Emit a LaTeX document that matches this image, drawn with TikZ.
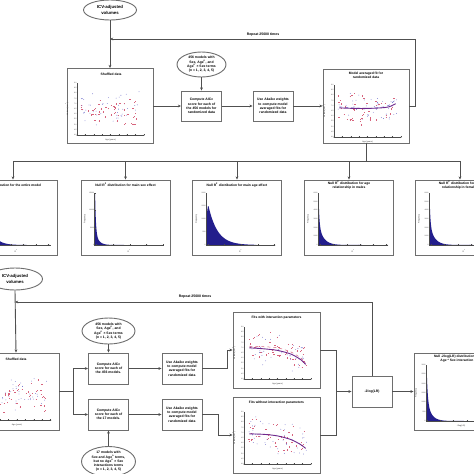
\documentclass[tikz,border=0pt]{standalone}
\usepackage{fontspec}
\setmainfont{Liberation Sans}
\usetikzlibrary{arrows.meta,shapes.geometric}

\definecolor{linegray}{RGB}{80,80,80}
\definecolor{boxgray}{RGB}{110,110,110}
\definecolor{histblue}{RGB}{35,30,140}
\definecolor{ptred}{RGB}{215,100,125}
\definecolor{ptblue}{RGB}{100,100,200}
\definecolor{fitpurple}{RGB}{110,40,140}

\tikzset{
 conn/.style={draw=linegray, line width=0.9pt},
 arr/.style={conn, -{Stealth[length=3.2pt,width=2.8pt]}},
 procbox/.style={draw=boxgray, line width=0.9pt, fill=white, inner sep=0pt, align=center, font=\fontsize{3.4}{4.2}\selectfont\bfseries},
 plotbox/.style={draw=boxgray, line width=0.9pt, fill=white, inner sep=0pt},
 ell/.style={ellipse, draw=boxgray, line width=0.9pt, fill=white, inner sep=0pt, align=center, font=\fontsize{3.4}{4.3}\selectfont\bfseries},
 ptitle/.style={align=center, inner sep=0pt, font=\fontsize{3.3}{4.2}\selectfont\bfseries},
 reptext/.style={inner sep=0pt, font=\fontsize{3.5}{4}\selectfont\bfseries},
 ticklab/.style={inner sep=0.3pt, font=\fontsize{1.7}{2}\selectfont, text=black!75},
 axlab/.style={inner sep=0.3pt, font=\fontsize{2}{2.4}\selectfont, text=black!80},
 axisline/.style={draw=black!70, line width=0.3pt},
}

\newcommand\axesinside[5]{%
 \draw[axisline] (0,1) -- (0,0) -- (1,0);
 \foreach \f/\l [count=\k] in {#2} {\draw[axisline] (\f,0) -- ++(0,1.2pt); \node[ticklab,anchor=north] (#1x\k) at (\f,0) {\l};}
 \foreach \f/\l [count=\k] in {#3} {\draw[axisline] (0,\f) -- ++(1.2pt,0); \node[ticklab,anchor=east] (#1y\k) at (0,\f) {\l};}
 \node[axlab,anchor=north] (#1xl) at (0.5,-0.07) {#4};
 \node[axlab,anchor=south,rotate=90] (#1yl) at (-0.12,0.5) {#5};
}
\newcommand\scatteraxes[1]{\axesinside{#1}{0/10,0.125/20,0.25/30,0.375/40,0.5/50,0.625/60,0.75/70,0.875/80,1/90}{0/4.0,0.1/4.5,0.2/5.0,0.3/5.5,0.4/6.0,0.5/6.5,0.6/7.0,0.7/7.5,0.8/8.0,0.9/8.5,1/9.0}{Age (years)}{Volume (cm\textsuperscript{3})}}

\newcommand\scatterdots[3]{%
 \pgfmathsetseed{#1}%
 \foreach \i in {1,...,45}{%
  \pgfmathsetmacro\pu{0.06+0.88*rnd}%
  \pgfmathsetmacro\pv{#2-#3*\pu*\pu+0.36*(rnd+rnd-1)}%
  \draw[ptred, line width=0.3pt] (\pu,\pv) +(-0.5pt,0) -- +(0.5pt,0) +(0,-0.5pt) -- +(0,0.5pt);
  \pgfmathsetmacro\qu{0.06+0.88*rnd}%
  \pgfmathsetmacro\qv{#2-#3*\qu*\qu+0.36*(rnd+rnd-1)}%
  \fill[ptblue] (\qu,\qv) circle (0.4pt);
 }}

\begin{document}
\begin{tikzpicture}[x=1pt,y=-1pt]
\useasboundingbox (0,0) rectangle (474,474);
\fill[white] (0,0) rectangle (474,474);
\clip (0,0) rectangle (474,474);

% ================= TOP SECTION =================
\node[ell, minimum width=53pt, minimum height=20pt, font=\fontsize{4.3}{5.4}\selectfont\bfseries] (ell1) at (110,10) {ICV-adjusted\\volumes};

\node[plotbox, minimum width=86pt, minimum height=75pt] (shuf1) at (110,106) {};
\node[ptitle] (shuf1t) at (111,74) {Shuffled data};
\begin{scope}[shift={(77pt,-135pt)}, x=67pt, y=52pt]
 \scatterdots{11}{0.5}{0}
 \scatteraxes{sa}
\end{scope}

\node[ell, minimum width=49pt, minimum height=25pt] (ell2) at (201.5,64.5) {456 models with\\Sex, Age\textsuperscript{n}, and\\Age\textsuperscript{n} × Sex terms\\(n = 1, 2, 3, 4, 5)};
\node[procbox, minimum width=40pt, minimum height=30pt] (comp1) at (201.5,106) {Compute AICc\\score for each of\\the 456 models for\\randomized data};
\node[procbox, minimum width=40pt, minimum height=30pt] (ak1) at (273,106) {Use Akaike weights\\to compute model\\averaged fits for\\randomized data};

\node[plotbox, minimum width=86pt, minimum height=74pt] (mavg) at (366,106) {};
\node[ptitle] (mavgt) at (366,75.5) {Model averaged fit for\\randomized data};
\begin{scope}[shift={(334pt,-137pt)}, x=67pt, y=52pt]
 \scatterdots{23}{0.55}{0}
 \draw[ptblue, line width=0.5pt, dashed] plot[smooth] coordinates {(0.08,0.58) (0.3,0.56) (0.5,0.55) (0.7,0.57) (0.82,0.61) (0.92,0.72)};
 \draw[fitpurple, line width=0.9pt] plot[smooth] coordinates {(0.08,0.56) (0.3,0.55) (0.5,0.55) (0.7,0.56) (0.82,0.58) (0.92,0.64)};
 \scatteraxes{sb}
\end{scope}

\node[reptext] (rep1) at (263,35) {Repeat 25000 times};
\coordinate (j1) at (110,39);

\draw[arr] (ell1.south) -- (shuf1.north);
\draw[arr] (ell2.south) -- (comp1.north);
\draw[arr] (shuf1.east) -- (comp1.west);
\draw[arr] (comp1.east) -- (ak1.west);
\draw[arr] (ak1.east) -- (mavg.west);
\draw[arr] (mavg.east) -- ++(6,0) |- (j1);

% ================= DISTRIBUTIONS =================
\node[plotbox, minimum width=89pt, minimum height=75pt] (d1) at (13,217.5) {};
\node[ptitle] (d1t) at (10,185) {Null R\textsuperscript{2} distribution for the entire model};
\begin{scope}[shift={(-18.5pt,-245pt)}, x=69pt, y=52pt]
 \begin{scope}[x=1pt,y=1pt]
  \fill[histblue] (1,0) -- (1,20) -- (3,50) -- plot[domain=3:45,samples=100] (\x,{50*exp(-(\x-3)/6)}) -- (45,0) -- cycle;
 \end{scope}
 \axesinside{da}{0.07/0,0.25/0.05,0.43/0.1,0.61/0.15,0.79/0.2,0.97/0.25}{0/0,0.25/500,0.5/1000,0.75/1500,1/2000}{R\textsuperscript{2}}{Frequency}
\end{scope}

\node[plotbox, minimum width=89pt, minimum height=75pt] (d2) at (125.5,217.5) {};
\node[ptitle] (d2t) at (125.5,185) {Null R\textsuperscript{2} distribution for main sex effect};
\begin{scope}[shift={(94.5pt,-245pt)}, x=69pt, y=52pt]
 \begin{scope}[x=1pt,y=1pt]
  \fill[histblue] (0.6,0) -- plot[domain=0.6:35,samples=150] (\x,{38*exp(-(\x-0.6)/0.8)+13*exp(-(\x-0.6)/3.5)}) -- (35,0) -- cycle;
 \end{scope}
 \axesinside{db}{0.03/0,0.27/0.05,0.51/0.1,0.75/0.15,0.99/0.2}{0/0,0.33/5000,0.67/10000,1/15000}{R\textsuperscript{2}}{Frequency}
\end{scope}

\node[plotbox, minimum width=89pt, minimum height=75pt] (d3) at (237,217.5) {};
\node[ptitle] (d3t) at (237,185) {Null R\textsuperscript{2} distribution for main age effect};
\begin{scope}[shift={(206pt,-245pt)}, x=69pt, y=52pt]
 \begin{scope}[x=1pt,y=1pt]
  \fill[histblue] (0.6,0) -- (0.6,30) -- (2,39) -- plot[domain=2.5:50,samples=120] (\x,{39*exp(-(\x-2.5)/9)}) -- (50,0) -- cycle;
 \end{scope}
 \axesinside{dc}{0.03/0,0.27/0.05,0.51/0.1,0.75/0.15,0.99/0.2}{0/0,0.25/500,0.5/1000,0.75/1500,1/2000}{R\textsuperscript{2}}{Frequency}
\end{scope}

\node[plotbox, minimum width=89pt, minimum height=75pt] (d4) at (349,217.5) {};
\node[ptitle] (d4t) at (349,185) {Null R\textsuperscript{2} distribution for age\\relationship in males};
\begin{scope}[shift={(318pt,-245pt)}, x=70pt, y=52pt]
 \begin{scope}[x=1pt,y=1pt]
  \fill[histblue] (0.6,0) -- plot[domain=0.6:45,samples=150] (\x,{28*exp(-(\x-0.6)/0.8)+20*exp(-(\x-0.6)/5)}) -- (45,0) -- cycle;
 \end{scope}
 \axesinside{dd}{0.03/0,0.22/0.05,0.41/0.1,0.6/0.15,0.79/0.2,0.98/0.25}{0/0,0.167/1000,0.333/2000,0.5/3000,0.667/4000,0.833/5000,1/6000}{R\textsuperscript{2}}{Frequency}
\end{scope}

\node[plotbox, minimum width=89pt, minimum height=75pt] (d5) at (460,217.5) {};
\node[ptitle] (d5t) at (460,185) {Null R\textsuperscript{2} distribution for age\\relationship in females};
\begin{scope}[shift={(429pt,-245pt)}, x=70pt, y=52pt]
 \begin{scope}[x=1pt,y=1pt]
  \fill[histblue] (0.6,0) -- plot[domain=0.6:45,samples=150] (\x,{28*exp(-(\x-0.6)/0.8)+20*exp(-(\x-0.6)/5)}) -- (45,0) -- cycle;
 \end{scope}
 \axesinside{de}{0.03/0,0.22/0.05,0.41/0.1,0.6/0.15,0.79/0.2,0.98/0.25}{0/0,0.167/1000,0.333/2000,0.5/3000,0.667/4000,0.833/5000,1/6000}{R\textsuperscript{2}}{Frequency}
\end{scope}

\coordinate (bus) at (366,161);
\draw[conn] (mavg.south) -- (bus);
\draw[conn] (d1.north |- bus) -- (d5.north |- bus);
\foreach \d in {d1,d2,d3,d4,d5} \draw[arr] (\d.north |- bus) -- (\d.north);

% ================= BOTTOM SECTION =================
\node[ell, minimum width=55pt, minimum height=22pt, font=\fontsize{4.3}{5.4}\selectfont\bfseries] (ell3) at (15,279) {ICV-adjusted\\volumes};

\node[plotbox, minimum width=86pt, minimum height=77pt] (shuf2) at (16,391.5) {};
\node[ptitle] (shuf2t) at (16,359) {Shuffled data};
\begin{scope}[shift={(-16.5pt,-420pt)}, x=67pt, y=52pt]
 \scatterdots{37}{0.5}{0}
 \scatteraxes{sc}
\end{scope}

\node[ell, minimum width=53pt, minimum height=26pt] (ell4) at (108.5,331) {456 models with\\Sex, Age\textsuperscript{n}, and\\Age\textsuperscript{n} × Sex terms\\(n = 1, 2, 3, 4, 5)};
\node[procbox, minimum width=40pt, minimum height=31pt] (comp2a) at (108.5,368.5) {Compute AICc\\score for each of\\the 456 models.};
\node[procbox, minimum width=40pt, minimum height=31pt] (ak2a) at (182,368.5) {Use Akaike weights\\to compute model\\averaged fits for\\randomized data};
\node[procbox, minimum width=40pt, minimum height=31pt] (comp2b) at (108.5,414.5) {Compute AICc\\score for each of\\the 17 models.};
\node[procbox, minimum width=40pt, minimum height=31pt] (ak2b) at (182,414.5) {Use Akaike weights\\to compute model\\averaged fits for\\randomized data};
\node[ell, minimum width=54pt, minimum height=30pt] (ell5) at (108.5,461.5) {17 models with\\Sex and Age\textsuperscript{n} terms,\\but no Age\textsuperscript{n} × Sex\\interactions terms\\(n = 1, 2, 3, 4, 5)};

\node[plotbox, minimum width=87pt, minimum height=76pt] (fitsw) at (276.5,350) {};
\node[ptitle] (fitswt) at (276.5,317.5) {Fits with interaction parameters};
\begin{scope}[shift={(244pt,-379pt)}, x=67pt, y=52pt]
 \scatterdots{51}{0.62}{0.3}
 \draw[ptred, line width=0.5pt, dashed] plot[smooth] coordinates {(0.08,0.63) (0.3,0.62) (0.5,0.6) (0.7,0.52) (0.85,0.4) (0.92,0.3)};
 \draw[fitpurple, line width=0.9pt] plot[smooth] coordinates {(0.08,0.6) (0.3,0.58) (0.5,0.55) (0.7,0.48) (0.85,0.37) (0.92,0.28)};
 \scatteraxes{sd}
\end{scope}

\node[plotbox, minimum width=87pt, minimum height=76pt] (fitso) at (276.5,435) {};
\node[ptitle] (fitsot) at (276.5,402.5) {Fits without interaction parameters};
\begin{scope}[shift={(244pt,-464pt)}, x=67pt, y=52pt]
 \scatterdots{67}{0.6}{0.3}
 \draw[fitpurple, line width=0.9pt] plot[smooth] coordinates {(0.08,0.58) (0.3,0.57) (0.5,0.54) (0.7,0.47) (0.85,0.37) (0.92,0.3)};
 \scatteraxes{se}
\end{scope}

\node[procbox, minimum width=40pt, minimum height=31pt] (lr) at (372,391.5) {-2log(LR)};

\node[plotbox, minimum width=86pt, minimum height=77pt] (fin) at (457,391.5) {};
\node[ptitle] (fint) at (457,359) {Null -2log(LR) distribution for\\Age * Sex interaction};
\begin{scope}[shift={(426pt,-421pt)}, x=70pt, y=56pt]
 \begin{scope}[x=1pt,y=1pt]
  \fill[histblue] (0.6,0) -- plot[domain=0.6:50,samples=150] (\x,{35*exp(-(\x-0.6)/1)+21*exp(-(\x-0.6)/4.5)}) -- (50,0) -- cycle;
 \end{scope}
 \axesinside{df}{0.014/0,0.2/5,0.39/10,0.59/15,0.78/20,0.98/25}{0/0,0.167/500,0.333/1000,0.5/1500,0.667/2000,0.833/2500,1/3000}{-2log(LR)}{Frequency}
\end{scope}

\node[reptext] (rep2) at (195,297) {Repeat 25000 times};
\coordinate (j2) at (15,302);
\coordinate (f1) at (73,391.5);
\coordinate (m1) at (336,391.5);

\draw[arr] (ell3.south) -- (shuf2.north);
\draw[conn] (shuf2.east) -- (f1);
\draw[arr] (f1) |- (comp2a.west);
\draw[arr] (f1) |- (comp2b.west);
\draw[arr] (ell4.south) -- (comp2a.north);
\draw[arr] (ell5.north) -- (comp2b.south);
\draw[arr] (comp2a.east) -- (ak2a.west);
\draw[arr] (comp2b.east) -- (ak2b.west);
\draw[arr] (ak2a.east) -- ++(25,0) |- (fitsw.west);
\draw[arr] (ak2b.east) -- ++(16,0) |- (fitso.west);
\draw[conn] (fitsw.east) -| (m1);
\draw[conn] (fitso.east) -| (m1);
\draw[arr] (m1) -- (lr.west);
\draw[arr] (lr.east) -- (fin.west);
\draw[arr] (lr.north) |- (j2);
\end{tikzpicture}
\end{document}
